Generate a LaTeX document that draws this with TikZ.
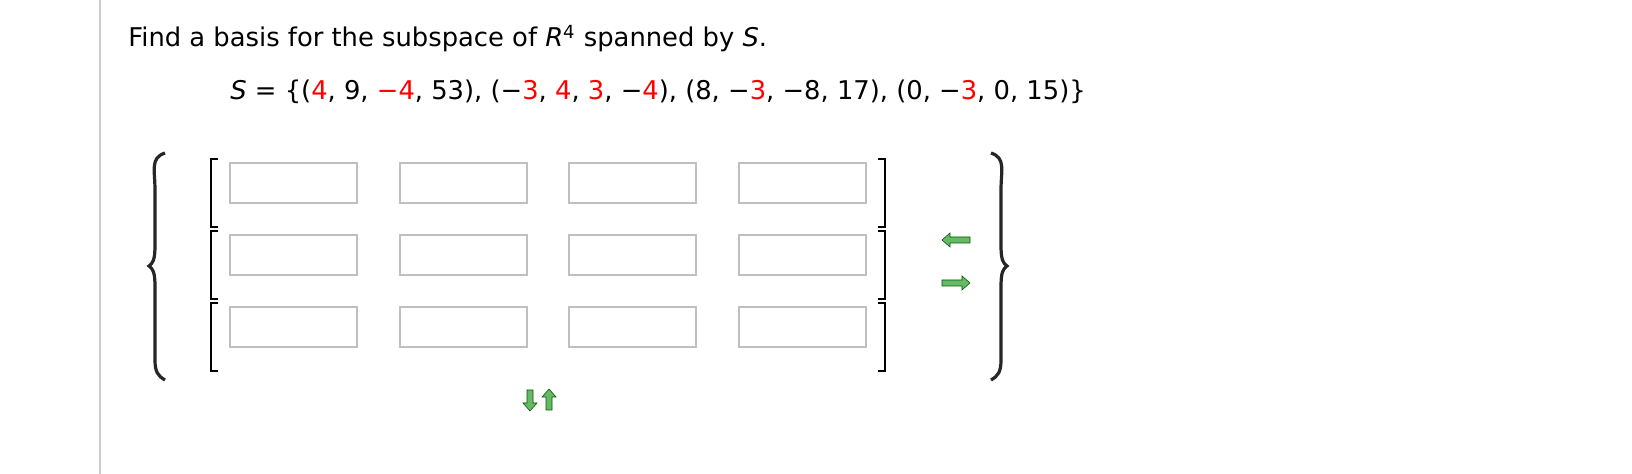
\documentclass[tikz,border=0pt]{standalone}
\usepackage{fontspec}
\setmainfont{DejaVu Sans}
\begin{document}
\begin{tikzpicture}[x=0.5pt,y=-0.5pt,
  box/.style={draw=black!25,line width=0.6pt},
  brk/.style={line width=1.4pt},
  txt/.style={anchor=base west,inner sep=0pt,font=\fontsize{12.9}{15}\selectfont},
  garrow/.style={fill=green!55!black!60,draw=green!35!black,line width=0.3pt}]
\useasboundingbox (0,0) rectangle (1632,474);
\fill[white] (0,0) rectangle (1632,474);
\draw[black!20,line width=1pt] (100,0) -- (100,474);
\node[txt] (t1) at (128,47) {Find a basis for the subspace of \textit{R}\textsuperscript{4} spanned by \textit{S}.};
\node[txt] (t2) at (230,100) {\textit{S} = \{(\textcolor{red}{4}, 9, \textcolor{red}{−4}, 53), (−\textcolor{red}{3}, \textcolor{red}{4}, \textcolor{red}{3}, −\textcolor{red}{4}), (8, −\textcolor{red}{3}, −8, 17), (0, −\textcolor{red}{3}, 0, 15)\}};
\foreach \r/\y in {1/163,2/235,3/307}{
  \foreach \c/\x in {1/230,2/400,3/569,4/739}{
    \draw[box] (\x,\y) rectangle ++(127,40) node[pos=0.5,inner sep=0pt] (b\r\c) {};
  }
  \draw[brk] (218,\y-4) -- (211,\y-4) -- (211,\y+64) -- (218,\y+64);
  \draw[brk] (878,\y-4) -- (885,\y-4) -- (885,\y+64) -- (878,\y+64);
}
% braces
\draw[line width=1.6pt,black!85] (165,153) .. controls (150,158) and (155,170) .. (155,190) -- (155,245) .. controls (155,260) and (153,263) .. (149,266) .. controls (153,269) and (155,272) .. (155,287) -- (155,360) .. controls (155,372) and (158,376) .. (165,380);
\draw[line width=1.6pt,black!85] (991,153) .. controls (1006,158) and (1001,170) .. (1001,190) -- (1001,245) .. controls (1001,260) and (1003,263) .. (1007,266) .. controls (1003,269) and (1001,272) .. (1001,287) -- (1001,360) .. controls (1001,372) and (998,376) .. (991,380);
% arrows
\draw[garrow] (942,240) -- (950,233) -- (950,237) -- (970,237) -- (970,243) -- (950,243) -- (950,247) -- cycle;
\draw[garrow] (970,283) -- (962,276) -- (962,280) -- (942,280) -- (942,286) -- (962,286) -- (962,290) -- cycle;
\draw[garrow] (530,411) -- (523,403) -- (527,403) -- (527,390) -- (533,390) -- (533,403) -- (537,403) -- cycle;
\draw[garrow] (549,389) -- (542,397) -- (546,397) -- (546,410) -- (552,410) -- (552,397) -- (556,397) -- cycle;
\end{tikzpicture}
\end{document}
